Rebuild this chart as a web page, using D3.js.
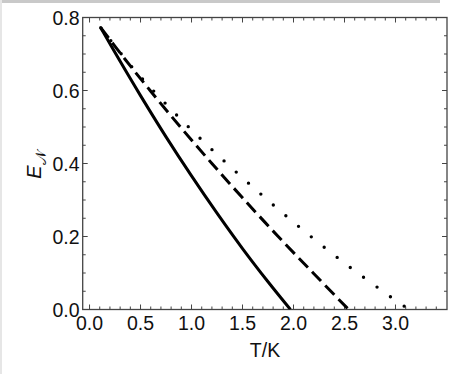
<!DOCTYPE html>
<html><head><meta charset="utf-8">
<script src="https://cdn.jsdelivr.net/npm/d3@7"></script>
<style>html,body{margin:0;padding:0;background:#fff;}svg{display:block;}</style>
</head><body>
<script>
// Data (T in K, E_N)
const solidT = [0.11, 0.30, 0.50, 0.75, 1.00, 1.25, 1.50, 1.75, 1.97];
const solidE = [0.772, 0.680, 0.586, 0.473, 0.366, 0.264, 0.167, 0.076, 0.000];
const dashedT = [0.11, 0.35, 0.60, 0.90, 1.20, 1.50, 1.85, 2.20, 2.54];
const dashedE = [0.772, 0.685, 0.598, 0.497, 0.400, 0.306, 0.200, 0.098, 0.000];
const dottedT = [0.11, 0.43, 0.763, 1.103, 1.456, 1.816, 2.188, 2.567, 2.956, 3.086];
const dottedE = [0.772, 0.660, 0.559, 0.464, 0.372, 0.283, 0.196, 0.113, 0.034, 0.009];
const xTicks = [0, 0.5, 1.0, 1.5, 2.0, 2.5, 3.0];
const yTicks = [0, 0.2, 0.4, 0.6, 0.8];

const W = 474, H = 374;
const svg = d3.select("body").append("svg").attr("width", W).attr("height", H);

// scan artifacts
svg.append("rect").attr("x",0).attr("y",0).attr("width",440).attr("height",3).attr("fill","#c9c9c9");
svg.append("rect").attr("x",0).attr("y",0).attr("width",2).attr("height",H).attr("fill","#e6e6e6");

const L = 82.7, R = 447, T = 17.5, B = 309.5;
const x = d3.scaleLinear().domain([-0.067, 3.505]).range([L, R]);
const y = d3.scaleLinear().domain([0, 0.8]).range([B, T]);

const frameColor = "#444";
const fontFam = "'Liberation Sans', Arial, sans-serif";

// frame
svg.append("rect").attr("x", L).attr("y", T).attr("width", R-L).attr("height", B-T)
  .attr("fill","none").attr("stroke",frameColor).attr("stroke-width",1.3);

// ticks
const xMinor = d3.range(0, 35).map(i => i/10).filter(v => x(v) < R-1);
const yMinor = d3.range(0, 17).map(i => i*0.05);
const isMajX = v => Math.abs(v*2 - Math.round(v*2)) < 1e-6;
const isMajY = v => Math.abs(v*5 - Math.round(v*5)) < 1e-6;
const tg = svg.append("g").attr("stroke", frameColor).attr("stroke-width", 1);
xMinor.forEach(v => {
  const len = isMajX(v) ? 5 : 3;
  tg.append("line").attr("x1", x(v)).attr("x2", x(v)).attr("y1", B).attr("y2", B-len);
  tg.append("line").attr("x1", x(v)).attr("x2", x(v)).attr("y1", T).attr("y2", T+len);
});
yMinor.forEach(v => {
  const len = isMajY(v) ? 5 : 3;
  tg.append("line").attr("y1", y(v)).attr("y2", y(v)).attr("x1", L).attr("x2", L+len);
  tg.append("line").attr("y1", y(v)).attr("y2", y(v)).attr("x1", R).attr("x2", R-len);
});

// tick labels
svg.append("g").selectAll("text").data(xTicks).join("text")
  .attr("x", d => x(d)).attr("y", 330).attr("text-anchor","middle")
  .attr("font-family", fontFam).attr("font-size", 19.5).attr("fill","#111")
  .text(d => d.toFixed(1));
svg.append("g").selectAll("text").data(yTicks).join("text")
  .attr("x", 79.5).attr("y", d => y(d)).attr("dy","0.36em").attr("text-anchor","end")
  .attr("font-family", fontFam).attr("font-size", 19.5).attr("fill","#111")
  .text(d => d.toFixed(1));

// axis labels
svg.append("text").attr("x", 265).attr("y", 357).attr("text-anchor","middle")
  .attr("font-family", fontFam).attr("font-size", 19.5).attr("fill","#111").text("T/K");
const yl = svg.append("text").attr("transform","translate(41,165) rotate(-90)")
  .attr("text-anchor","middle").attr("font-family", fontFam).attr("font-size", 20).attr("fill","#111");
yl.append("tspan").attr("font-style","italic").text("E");
yl.append("tspan").attr("font-size", 15).attr("dy", 5).attr("font-family","'DejaVu Sans', 'Noto Sans', serif").text("𝒩");

// curves
const line = d3.line().x(d => x(d[0])).y(d => y(d[1])).curve(d3.curveCatmullRom.alpha(0.5));
svg.append("clipPath").attr("id","c").append("rect").attr("x",L).attr("y",T-5).attr("width",R-L).attr("height",B-T+5);
const g = svg.append("g").attr("clip-path","url(#c)");
g.append("path").attr("d", line(solidT.map((t,i)=>[t, solidE[i]])))
  .attr("fill","none").attr("stroke","#000").attr("stroke-width",3);
g.append("path").attr("d", line(dashedT.map((t,i)=>[t, dashedE[i]])))
  .attr("fill","none").attr("stroke","#000").attr("stroke-width",3).attr("stroke-dasharray","13,6");
const dp = g.append("path").attr("d", line(dottedT.map((t,i)=>[t, dottedE[i]])))
  .attr("fill","none").attr("stroke","#000").attr("stroke-width",3.4).attr("stroke-linecap","round");
const len = dp.node().getTotalLength();
dp.attr("stroke-dasharray", "0," + (len/25 * 0.999).toFixed(3));
</script>
</body></html>
